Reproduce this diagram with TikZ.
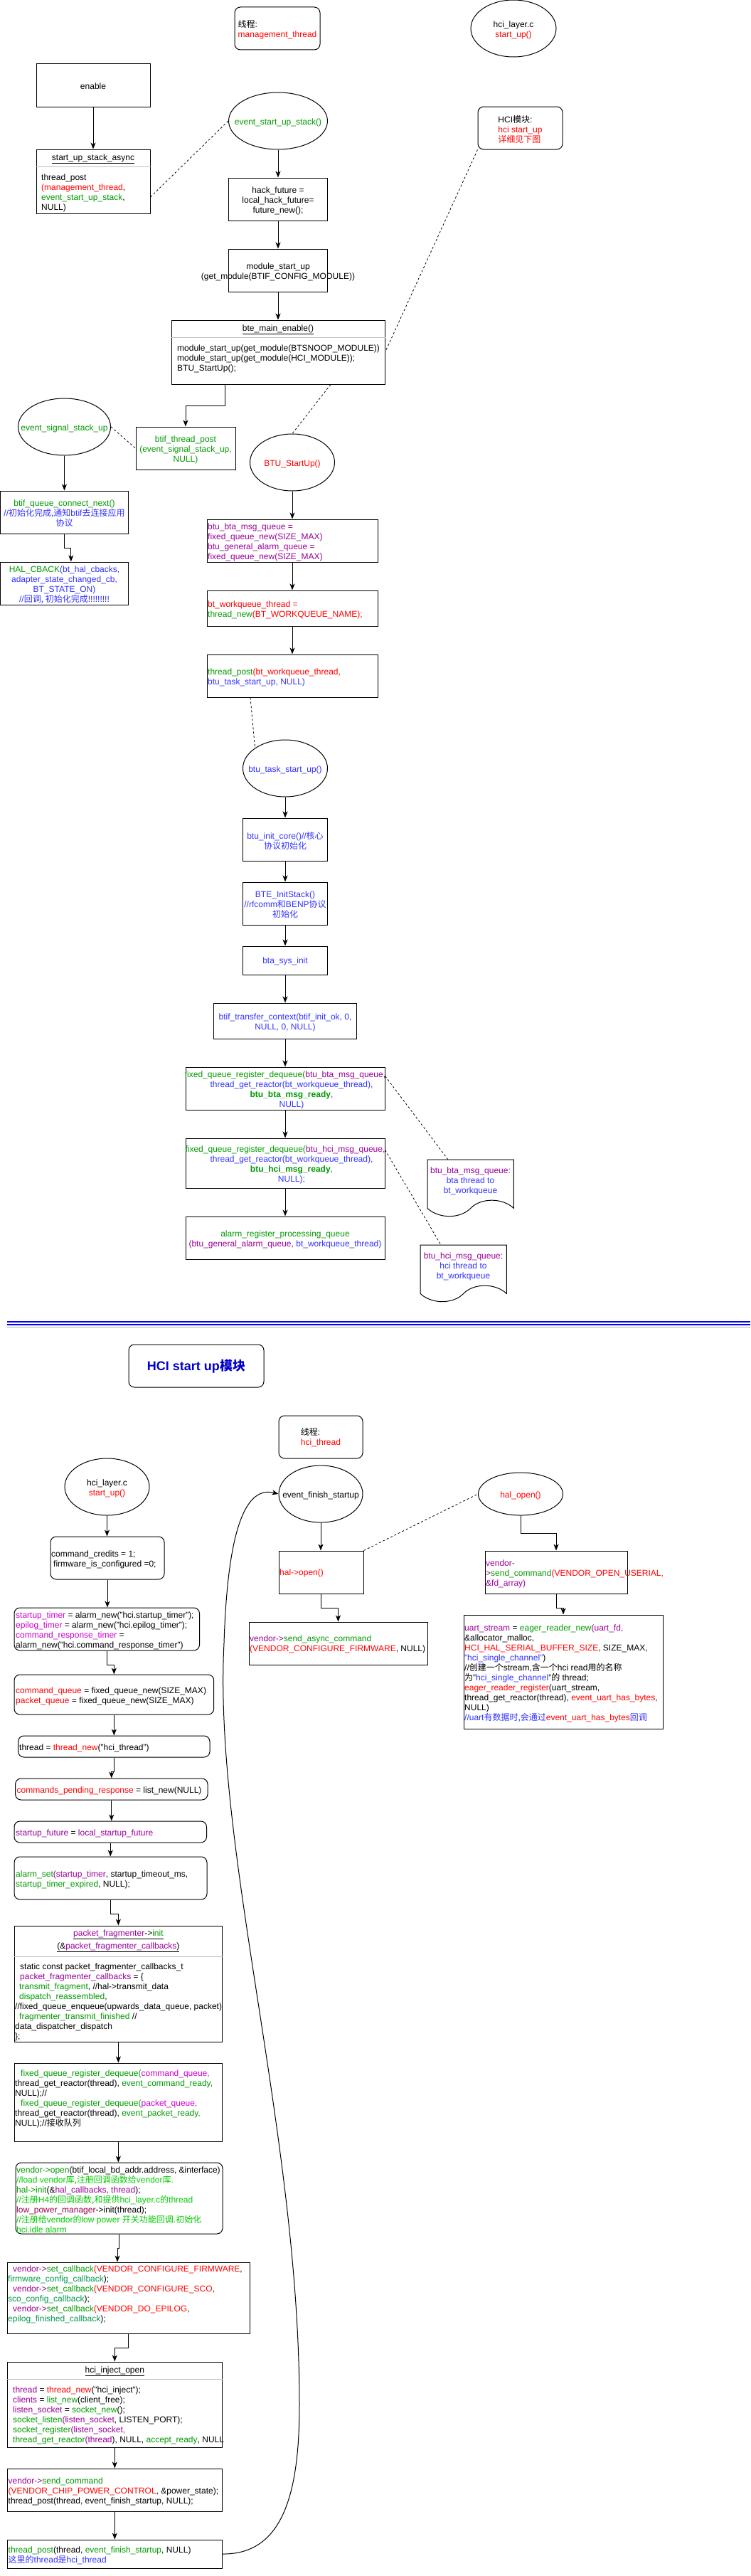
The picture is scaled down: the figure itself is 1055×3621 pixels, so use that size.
\documentclass[tikz,border=0pt]{standalone}
\usepackage{fontspec}
\setmainfont{Liberation Sans}
\newfontfamily\cjk{Noto Sans CJK SC}
\usetikzlibrary{arrows.meta,calc,shapes.geometric}
\definecolor{cred}{HTML}{FF0000}
\definecolor{cgrn}{HTML}{009900}
\definecolor{clgr}{HTML}{00CC00}
\definecolor{cblu}{HTML}{3333FF}
\definecolor{cpur}{HTML}{990099}
\definecolor{cmag}{HTML}{CC00CC}
\definecolor{cpnk}{HTML}{99004D}
\definecolor{ctel}{HTML}{00994D}
\definecolor{ctit}{HTML}{0000CC}
\definecolor{cline}{HTML}{0000FF}
\newcommand\zh[1]{{\cjk #1}}
\newcommand\tred[1]{\textcolor{cred}{#1}}
\newcommand\tgrn[1]{\textcolor{cgrn}{#1}}
\newcommand\tlgr[1]{\textcolor{clgr}{#1}}
\newcommand\tblu[1]{\textcolor{cblu}{#1}}
\newcommand\tpur[1]{\textcolor{cpur}{#1}}
\newcommand\tmag[1]{\textcolor{cmag}{#1}}
\newcommand\tpnk[1]{\textcolor{cpnk}{#1}}
\newcommand\ttel[1]{\textcolor{ctel}{#1}}
\tikzset{
  bx/.style={draw, line width=1pt, rectangle, inner sep=0pt},
  rbx/.style={bx, rounded corners=8pt},
  ell/.style={draw, line width=1pt, ellipse, inner sep=0pt},
  tx/.style={inner sep=0pt, align=left, anchor=west},
  tc/.style={inner sep=0pt, align=center},
  arr/.style={line width=1pt, -{Stealth[length=9pt,width=7pt,inset=2.5pt]}},
  dsh/.style={line width=0.8pt, dash pattern=on 3pt off 3pt},
  divl/.style={gray!50, line width=1pt},
}
\begin{document}
\catcode`\_=12
\begin{tikzpicture}[x=1pt,y=-1pt,font=\fontsize{12}{14}\selectfont]
\fill[white] (0,0) rectangle (1055,3621);
\useasboundingbox (0,0) rectangle (1055,3621);

% ---------------- top part ----------------
\node[rbx, minimum width=120pt, minimum height=60pt] (mthr) at (390,40) {};
\node[tc, align=left] (mthr-t) at (390,41.5) {\zh{线程}:\\\tred{management_thread}};

\node[ell, minimum width=120pt, minimum height=80pt] (hla) at (722,40) {};
\node[tc] (hla-t) at (722,42) {hci_layer.c\\\tred{start_up()}};

\node[bx, minimum width=160pt, minimum height=60pt] (enable) at (131,120) {};
\node[tc] (enable-t) at (131,121) {enable};

\node[bx, minimum width=160pt, minimum height=90pt] (susa) at (131,255) {};
\draw[divl] (susa.west |- 0,234) -- (susa.east |- 0,234);
\node[tc] (susa-h) at (131,223) {\underline{start_up_stack_async}};
\node[tx] (susa-t) at (58,271) {thread_post\\\tred{(management_thread},\\\tgrn{event_start_up_stack},\\NULL)};

\node[ell, minimum width=139pt, minimum height=80pt] (esus) at (391,170) {};
\node[tc, text=cgrn] (esus-t) at (391,172) {event_start_up_stack()};

\node[bx, minimum width=139pt, minimum height=60pt] (hack) at (391,280) {};
\node[tc] (hack-t) at (391,282) {hack_future =\\local_hack_future=\\future_new();};

\node[rbx, minimum width=119pt, minimum height=60pt] (hcim) at (731.5,180) {};
\node[tc, align=left] (hcim-t) at (731.5,182) {HCI\zh{模块}:\\\tred{hci start_up}\\\tred{\zh{详细见下图}}};

\node[bx, minimum width=139pt, minimum height=60pt] (modsu) at (391,380) {};
\node[tc] (modsu-t) at (391,382) {module_start_up\\(get_module(BTIF_CONFIG_MODULE))};

\node[bx, minimum width=300pt, minimum height=90pt] (bme) at (391,495) {};
\draw[divl] (bme.west |- 0,474) -- (bme.east |- 0,474);
\node[tc] (bme-h) at (391,463) {\underline{bte_main_enable()}};
\node[tx] (bme-t) at (249,504) {module_start_up(get_module(BTSNOOP_MODULE))\\module_start_up(get_module(HCI_MODULE));\\BTU_StartUp();};

\node[ell, minimum width=130pt, minimum height=80pt] (esu) at (90.5,600) {};
\node[tc, text=cgrn] (esu-t) at (90.5,602) {event_signal_stack_up};

\node[bx, minimum width=140pt, minimum height=60pt] (btp) at (261,630) {};
\node[tc, text=cgrn] (btp-t) at (261,632) {btif_thread_post\\(event_signal_stack_up,\\NULL)};

\node[ell, minimum width=119pt, minimum height=80pt] (bsu) at (411,650) {};
\node[tc, text=cred] (bsu-t) at (411,652) {BTU_StartUp()};

\node[bx, minimum width=180pt, minimum height=60pt] (bqcn) at (90.5,720) {};
\node[tc] (bqcn-t) at (90.5,722) {\tgrn{btif_queue_connect_next()}\\\tblu{//\zh{初始化完成,通知}btif\zh{去连接应用}}\\\tblu{\zh{协议}}};

\node[bx, minimum width=180pt, minimum height=60pt] (hal) at (90.5,820) {};
\node[tc] (hal-t) at (90.5,822) {\tgrn{HAL_CBACK}\tblu{(bt_hal_cbacks,}\\\tblu{adapter_state_changed_cb,}\\\tblu{BT_STATE_ON)}\\\tblu{//\zh{回调, 初始化完成}!!!!!!!!!}};

\node[bx, minimum width=240pt, minimum height=60pt] (bbmq) at (411,760) {};
\node[tx, text=cpur] (bbmq-t) at (292,762) {btu_bta_msg_queue =\\fixed_queue_new(SIZE_MAX)\\btu_general_alarm_queue =\\fixed_queue_new(SIZE_MAX)};

\node[bx, minimum width=240pt, minimum height=50pt] (bwt) at (411,855) {};
\node[tx] (bwt-t) at (292,857) {\tred{bt_workqueue_thread =}\\\tgrn{thread_new}\tred{(BT_WORKQUEUE_NAME);}};

\node[bx, minimum width=240pt, minimum height=60pt] (tpw) at (411,950) {};
\node[tx] (tpw-t) at (292,952) {\tgrn{thread_post}\tred{(bt_workqueue_thread,}\\\tblu{btu_task_start_up, NULL)}};

\node[ell, minimum width=119pt, minimum height=80pt] (btsu) at (401,1080) {};
\node[tc, text=cblu] (btsu-t) at (401,1082) {btu_task_start_up()};

\node[bx, minimum width=119pt, minimum height=60pt] (bic) at (401,1180) {};
\node[tc, text=cblu] (bic-t) at (401,1182) {btu_init_core()//\zh{核心}\\\zh{协议初始化}};

\node[bx, minimum width=119pt, minimum height=60pt] (bis) at (401,1270) {};
\node[tc, text=cblu] (bis-t) at (401,1272) {BTE_InitStack()\\//rfcomm\zh{和}BENP\zh{协议}\\\zh{初始化}};

\node[bx, minimum width=119pt, minimum height=40pt] (bsi) at (401,1350) {};
\node[tc, text=cblu] (bsi-t) at (401,1351) {bta_sys_init};

\node[bx, minimum width=201pt, minimum height=50pt] (btc) at (401,1435) {};
\node[tc, text=cblu] (btc-t) at (401,1437) {btif_transfer_context(btif_init_ok, 0,\\NULL, 0, NULL)};

\node[bx, minimum width=280pt, minimum height=60pt] (fqa) at (401,1530) {};
\node[tc] (fqa-t) at (401,1532) {\tgrn{fixed_queue_register_dequeue(}\tpur{btu_bta_msg_queue,}\\\hspace*{18pt}\tblu{thread_get_reactor(bt_workqueue_thread),}\\\hspace*{18pt}\tgrn{\textbf{btu_bta_msg_ready}}\tblu{,}\\\hspace*{18pt}\tblu{NULL)}};

\node[bx, minimum width=280pt, minimum height=70pt] (fqb) at (401,1635) {};
\node[tc] (fqb-t) at (401,1637) {\tgrn{fixed_queue_register_dequeue(}\tpur{btu_hci_msg_queue,}\\\hspace*{18pt}\tblu{thread_get_reactor(bt_workqueue_thread),}\\\hspace*{18pt}\tgrn{\textbf{btu_hci_msg_ready}}\tblu{,}\\\hspace*{18pt}\tblu{NULL);}};

\node[bx, minimum width=280pt, minimum height=60pt] (arq) at (401,1740) {};
\node[tc] (arq-t) at (401,1742) {\tgrn{alarm_register_processing_queue}\\\tpur{(btu_general_alarm_queue,} \tblu{bt_workqueue_thread)}};

% notes (document shapes)
\node[inner sep=0pt, minimum width=121pt, minimum height=68pt, anchor=north west] (notea) at (601,1630) {};
\draw[line width=1pt] (notea.south east) -- (notea.north east) -- (notea.north west) -- (notea.south west) .. controls +(16,15) and +(-14.5,15) .. (notea.south) .. controls +(14.5,-15) and +(-16,-15) .. (notea.south east) -- cycle;
\node[tc] (notea-t) at (661.5,1660) {\tpur{btu_bta_msg_queue:}\\\tblu{bta thread to}\\\tblu{bt_workqueue}};

\node[inner sep=0pt, minimum width=121pt, minimum height=68pt, anchor=north west] (noteb) at (591,1750) {};
\draw[line width=1pt] (noteb.south east) -- (noteb.north east) -- (noteb.north west) -- (noteb.south west) .. controls +(16,15) and +(-14.5,15) .. (noteb.south) .. controls +(14.5,-15) and +(-16,-15) .. (noteb.south east) -- cycle;
\node[tc] (noteb-t) at (651.5,1780) {\tpur{btu_hci_msg_queue:}\\\tblu{hci thread to}\\\tblu{bt_workqueue}};

% top connectors
\draw[arr] (enable.south) -- (susa.north);
\draw[arr] (esus.south) -- (hack.north);
\draw[arr] (hack.south) -- (modsu.north);
\draw[arr] (modsu.south) -- (bme.north);
\draw[arr] ([xshift=-75pt]bme.south) -- ++(0,30) -| (btp.north);
\draw[arr] (esu.south) -- (bqcn.north);
\draw[arr] (bqcn.south) -- ++(0,20) -| ([xshift=9.3pt]hal.north);
\draw[arr] (bsu.south) -- (bbmq.north);
\draw[arr] (bbmq.south) -- (bwt.north);
\draw[arr] (bwt.south) -- (tpw.north);
\draw[arr] (btsu.south) -- (bic.north);
\draw[arr] (bic.south) -- (bis.north);
\draw[arr] (bis.south) -- (bsi.north);
\draw[arr] (bsi.south) -- (btc.north);
\draw[arr] (btc.south) -- (fqa.north);
\draw[arr] (fqa.south) -- (fqb.north);
\draw[arr] (fqb.south) -- (arq.north);

\draw[dsh] ($(susa.east)+(0,22)$) -- (esus.west);
\draw[dsh] (hcim.south west) -- (bme.east);
\draw[dsh] ([xshift=74pt]bme.south) -- (bsu.north);
\draw[dsh] (esu.east) -- (btp.west);
\draw[dsh] ([xshift=-59pt]tpw.south) -- (btsu.north west);
\draw[dsh] ($(fqa.north east)+(0,13)$) -- ($(notea.north west)+(29,0)$);
\draw[dsh] ($(fqb.north east)+(0,17)$) -- ($(noteb.north west)+(29,0)$);

% separator
\draw[cline, line width=1.3pt] (10,1858) -- (1055,1858);
\draw[cline, line width=1.3pt] (10,1862) -- (1055,1862);
\draw[gray!60, line width=1.3pt] (10,1865.5) -- (1055,1865.5);

\node[rbx, minimum width=190pt, minimum height=60pt] (hcit) at (276,1920) {};
\node[tc, text=ctit, font=\fontsize{18}{22}\selectfont\bfseries] (hcit-t) at (276,1921) {HCI start up\zh{模块}};

% ---------------- bottom part ----------------
\node[rbx, minimum width=118pt, minimum height=60pt] (hthr) at (451,2020) {};
\node[tc, align=left] (hthr-t) at (451,2021) {\zh{线程}:\\\tred{hci_thread}};

\node[ell, minimum width=119pt, minimum height=80pt] (hlb) at (150.5,2090) {};
\node[tc] (hlb-t) at (150.5,2092) {hci_layer.c\\\tred{start_up()}};

\node[rbx, minimum width=160pt, minimum height=60pt] (cc) at (151,2190) {};
\node[tx] (cc-t) at (72,2192) {command_credits = 1;\\\hspace*{3pt}firmware_is_configured =0;};

\node[rbx, minimum width=260.5pt, minimum height=60pt] (stm) at (150.25,2290) {};
\node[tx] (stm-t) at (22,2292) {\tmag{startup_timer} = alarm_new("hci.startup_timer");\\\tmag{epilog_timer} = alarm_new("hci.epilog_timer");\\\tmag{command_response_timer} =\\alarm_new("hci.command_response_timer")};

\node[rbx, minimum width=280.7pt, minimum height=56pt] (cq) at (160.35,2382) {};
\node[tx] (cq-t) at (22,2384) {\tred{command_queue} = fixed_queue_new(SIZE_MAX)\\\tred{packet_queue} = fixed_queue_new(SIZE_MAX)};

\node[rbx, minimum width=269.4pt, minimum height=30pt] (thn) at (160.3,2455) {};
\node[tx] (thn-t) at (27,2457) {thread = \tred{thread_new}("hci_thread")};

\node[rbx, minimum width=270.4pt, minimum height=30pt] (cpr) at (156.8,2515) {};
\node[tx] (cpr-t) at (23.5,2517) {\tred{commands_pending_response} = list_new(NULL)};

\node[rbx, minimum width=270.5pt, minimum height=30pt] (sf) at (155.25,2575) {};
\node[tx] (sf-t) at (22,2577) {\tpur{startup_future} = \tpur{local_startup_future}};

\node[rbx, minimum width=271pt, minimum height=60pt] (aset) at (155.5,2640) {};
\node[tx] (aset-t) at (22,2642) {\tgrn{alarm_set}\tpur{(startup_timer}, startup_timeout_ms,\\\tgrn{startup_timer_expired}, NULL);};

\node[bx, minimum width=291.8pt, minimum height=163pt] (pf) at (166.4,2788.5) {};
\draw[divl] (pf.west |- 0,2750) -- (pf.east |- 0,2750);
\node[tc] (pf-h) at (166.4,2728) {\underline{\tpur{packet_fragmenter}->\tgrn{init}}\\[4pt]\underline{(\&\tpur{packet_fragmenter_callbacks})}};
\node[tx] (pf-t) at (21,2814) {\hspace*{7pt}static const packet_fragmenter_callbacks_t\\\hspace*{7pt}\tpur{packet_fragmenter_callbacks} = \{\\\hspace*{6pt}\tgrn{transmit_fragment}, //hal->transmit_data\\\hspace*{6pt}\tgrn{dispatch_reassembled},\\//fixed_queue_enqueue(upwards_data_queue, packet)\\\hspace*{6pt}\tgrn{fragmenter_transmit_finished} //\\data_dispatcher_dispatch\\\};};

\node[bx, minimum width=291.8pt, minimum height=110pt] (fqc) at (166.4,2955) {};
\node[tx] (fqc-t) at (21,2950) {\hspace*{8pt}\tgrn{fixed_queue_register_dequeue(}\tmag{command_queue,}\\thread_get_reactor(thread), \tgrn{event_command_ready,}\\NULL);//\\\hspace*{8pt}\tgrn{fixed_queue_register_dequeue(}\tmag{packet_queue,}\\thread_get_reactor(thread), \tgrn{event_packet_ready,}\\NULL);//\zh{接收队列}};

\node[rbx, minimum width=291pt, minimum height=100pt] (vo) at (167.5,3090) {};
\node[tx] (vo-t) at (23,3092) {\tgrn{vendor->open}(btif_local_bd_addr.address, \&interface)\\\tlgr{//load vendor\zh{库,注册回调函数给}vendor\zh{库}.}\\\tgrn{hal->init}(\&\tpur{hal_callbacks, thread});\\\tlgr{//\zh{注册}H4\zh{的回调函数,和提供}hci_layer.c\zh{的}thread}\\\tpnk{low_power_manager}->init(thread);\\\tlgr{//\zh{注册给}vendor\zh{的}low power \zh{开关功能回调.初始化}}\\\tlgr{hci.idle alarm}};

\node[bx, minimum width=340.7pt, minimum height=100pt] (scb) at (180.65,3230) {};
\node[tx] (scb-t) at (11,3225) {\hspace*{7pt}\tpur{vendor->}\tgrn{set_callback}\tred{(VENDOR_CONFIGURE_FIRMWARE},\\\ttel{firmware_config_callback});\\\hspace*{7pt}\tpur{vendor->}\tgrn{set_callback}\tred{(VENDOR_CONFIGURE_SCO},\\\ttel{sco_config_callback});\\\hspace*{7pt}\tpur{vendor->}\tgrn{set_callback}\tred{(VENDOR_DO_EPILOG},\\\ttel{epilog_finished_callback});};

\node[bx, minimum width=302pt, minimum height=120pt] (hio) at (161.3,3380) {};
\draw[divl] (hio.west |- 0,3344) -- (hio.east |- 0,3344);
\node[tc] (hio-h) at (161.3,3333) {\underline{hci_inject_open}};
\node[tx] (hio-t) at (11,3395) {\hspace*{7pt}\tpur{thread} = \tred{thread_new}("hci_inject");\\\hspace*{7pt}\tpur{clients} = \tgrn{list_new}(client_free);\\\hspace*{7pt}\tpur{listen_socket} = \tgrn{socket_new}();\\\hspace*{7pt}\tgrn{socket_listen}\tpur{(listen_socket}, LISTEN_PORT);\\\hspace*{7pt}\tgrn{socket_register}\tpur{(listen_socket,}\\\hspace*{7pt}\tgrn{thread_get_reactor}\tpur{(thread}), NULL, \tgrn{accept_ready}, NULL};

\node[bx, minimum width=302pt, minimum height=60pt] (vsc) at (161.3,3500) {};
\node[tx] (vsc-t) at (11.5,3502) {\tpur{vendor->}\tgrn{send_command}\\\tred{(VENDOR_CHIP_POWER_CONTROL}, \&power_state);\\thread_post(thread, event_finish_startup, NULL);};

\node[bx, minimum width=302pt, minimum height=40pt] (tpb) at (161.3,3590) {};
\node[tx] (tpb-t) at (11.5,3592) {\tgrn{thread_post}(thread, \tgrn{event_finish_startup}, NULL)\\\tblu{\zh{这里的}thread\zh{是}hci_thread}};

\node[ell, minimum width=118pt, minimum height=80pt] (efs) at (451,2100) {};
\node[tc] (efs-t) at (451,2102) {event_finish_startup};

\node[bx, minimum width=119pt, minimum height=60pt] (ho) at (451.5,2210) {};
\node[tx] (ho-t) at (393,2211) {\tred{hal->open()}};

\node[bx, minimum width=251pt, minimum height=60pt] (vsac) at (475.5,2310) {};
\node[tx] (vsac-t) at (351,2311) {\tpur{vendor->}\tgrn{send_async_command}\\\tred{(VENDOR_CONFIGURE_FIRMWARE}, NULL)};

\node[ell, minimum width=119pt, minimum height=60pt] (hop) at (732,2100) {};
\node[tc, text=cred] (hop-t) at (732,2102) {hal_open()};

\node[bx, minimum width=200pt, minimum height=60pt] (vscmd) at (782,2210) {};
\node[tx] (vscmd-t) at (683,2212) {\tpur{vendor-}\\\tpur{>}\tgrn{send_command}\tred{(VENDOR_OPEN_USERIAL,}\\\tpur{\&fd_array)}};

\node[bx, minimum width=280pt, minimum height=160pt] (us) at (792,2350) {};
\node[tx] (us-t) at (653,2352) {\tpur{uart_stream} = \tgrn{eager_reader_new}\tpur{(uart_fd,}\\\&allocator_malloc,\\\tred{HCI_HAL_SERIAL_BUFFER_SIZE}, SIZE_MAX,\\\tblu{"hci_single_channel"})\\//\zh{创建一个}stream,\zh{含一个}hci read\zh{用的名称}\\\zh{为}"\tblu{hci_single_channel}"\zh{的} thread;\\\tred{eager_reader_register}(uart_stream,\\thread_get_reactor(thread), \tred{event_uart_has_bytes},\\NULL)\\\tblu{//uart\zh{有数据时,会通过}}\tred{event_uart_has_bytes}\tblu{\zh{回调}}};

% bottom connectors
\draw[arr] (hlb.south) -- (hlb.south |- cc.north);
\draw[arr] (cc.south) -- (cc.south |- stm.north);
\draw[arr] (stm.south) -- ++(0,20) -| (cq.north);
\draw[arr] (cq.south) -- (cq.south |- thn.north);
\draw[arr] (thn.south) -- ++(0,20) -| (cpr.north);
\draw[arr] (cpr.south) -- (cpr.south |- sf.north);
\draw[arr] (sf.south) -- (sf.south |- aset.north);
\draw[arr] (aset.south) -- ++(0,20) -| (pf.north);
\draw[arr] (pf.south) -- (fqc.north);
\draw[arr] (fqc.south) -- (fqc.south |- vo.north);
\draw[arr] (vo.south) -- ++(0,20) -| ([xshift=-15.6pt]scb.north);
\draw[arr] (scb.south) -- ++(0,20) -| (hio.north);
\draw[arr] (hio.south) -- (vsc.north);
\draw[arr] (vsc.south) -- (tpb.north);
\draw[arr] (efs.south) -- (efs.south |- ho.north);
\draw[arr] (ho.south) -- ++(0,20) -| (vsac.north);
\draw[arr] (hop.south) -- ++(0,25) -| (vscmd.north);
\draw[arr] (vscmd.south) -- ++(0,20) -| (us.north);
\draw[dsh] (ho.north east) -- (hop.west);
\draw[arr] (tpb.east) .. controls (400,3591) and (421,3500) .. (421,3380) .. controls (421,3000) and (300,2600) .. (315,2310) .. controls (320,2150) and (345,2088) .. (efs.west);
\end{tikzpicture}
\end{document}
